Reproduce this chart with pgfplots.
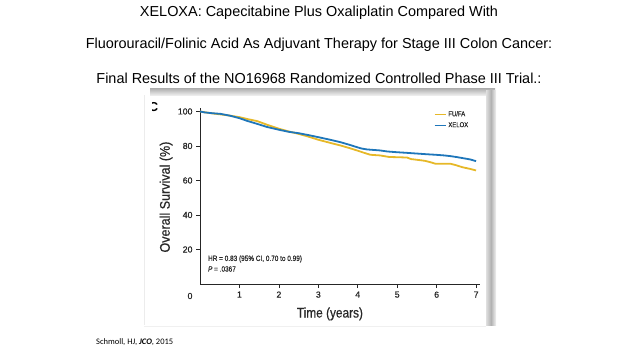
\documentclass[border=0pt]{standalone}
\usepackage{pgfplots}
\pgfplotsset{compat=1.18}
\usepackage{fontspec}
\setmainfont{Liberation Sans}
\newfontfamily\notefont{Carlito}
\newfontfamily\condfont[FakeStretch=0.85,FakeBold=0.6]{Liberation Sans}
\newfontfamily\condfontw[FakeStretch=0.9,FakeBold=0.6]{Liberation Sans}
\newfontfamily\tickfont[FakeBold=0.7]{Liberation Sans}
\definecolor{fufa}{RGB}{230,184,40}
\definecolor{xelox}{RGB}{30,118,186}
\definecolor{tickgray}{RGB}{40,40,40}
\begin{document}
\begin{tikzpicture}[x=1bp,y=1bp]
\path[use as bounding box] (0,0) rectangle (638,359);
% title
\node[font=\fontsize{14.5}{16}\selectfont] at (319,359-13) {XELOXA: Capecitabine Plus Oxaliplatin Compared With};
\node[font=\fontsize{14.5}{16}\selectfont] at (319,359-45) {Fluorouracil/Folinic Acid As Adjuvant Therapy for Stage III Colon Cancer:};
\node[font=\fontsize{14.5}{16}\selectfont] at (319,359-78) {Final Results of the NO16968 Randomized Controlled Phase III Trial.:};
% panel frame
\shade[top color=gray!65, bottom color=gray!15] (150,359-95) rectangle (495,359-88);
\shade[left color=gray!25, right color=gray!60] (486,359-325) rectangle (491,359-90);
\shade[left color=gray!60, right color=gray!10] (491,359-325) rectangle (496,359-90);
\draw[gray!15] (144,359-95) -- (144,359-325);
\draw[gray!12] (144,359-326) -- (486,359-326);
% partial panel letter
\begin{scope}
\clip (152,359-116) rectangle (165,359-98);
\node[font=\bfseries\fontsize{13}{13}\selectfont, anchor=east, inner sep=0pt] at (158.5,359-107) {C};
\end{scope}
\begin{axis}[
  at={(200bp,75bp)}, anchor=south west,
  scale only axis, width=280bp, height=176bp,
  xmin=0, xmax=7.1, ymin=0, ymax=102,
  axis x line=bottom, axis y line=left,
  axis line style={-, black!85, line width=0.7bp},
  xtick={1,2,3,4,5,6,7}, ytick={20,40,60,80,100},
  tick align=outside, major tick length=4bp,
  tick style={black!85, line width=0.7bp},
  ticklabel style={font=\tickfont\fontsize{8.8}{9}\selectfont, text=tickgray},
  /pgf/number format/assume math mode=true,
  xlabel={Time (years)}, ylabel={Overall Survival (\%)},
  xlabel style={font=\condfont\fontsize{14}{14}\selectfont, text=tickgray, at={(rel axis cs:0.464,-0.17)}, anchor=center},
  ylabel style={font=\condfontw\fontsize{14}{14}\selectfont, text=tickgray, at={(rel axis cs:-0.121,0.494)}, anchor=center},
  legend cell align=left,
  legend style={font=\condfont\fontsize{7}{8}\selectfont, text=tickgray, draw=none, fill=none, at={(rel axis cs:0.83,1.0)}, anchor=north west, row sep=0.5bp, inner sep=1pt},
  legend image code/.code={\draw[#1, line width=1.8bp] (0,0) -- (11bp,0);},
  clip=false,
]
\addplot[fufa, line width=1.8bp] coordinates {
(0,100) (0.1,99.6) (0.3,98.9) (0.52,98.3) (0.75,97.6) (1,96.7) (1.2,95.6) (1.45,94.4) (1.7,92.3) (2,90) (2.25,88.4) (2.5,87.0) (2.75,85.4) (3,83.6) (3.3,81.8) (3.56,80.3) (3.8,78.7) (3.98,77.4) (4.15,76.1) (4.32,74.9) (4.57,74.5) (4.8,73.6) (4.98,73.5) (5.25,73.3) (5.35,72.4) (5.5,72.0) (5.7,71.4) (5.84,70.6) (5.97,69.7) (6.35,69.7) (6.5,68.8) (6.65,67.7) (6.85,66.7) (7,65.8)};
\addlegendentry{FU/FA}
\addplot[xelox, line width=1.8bp] coordinates {
(0,100) (0.1,99.5) (0.3,99.0) (0.52,98.6) (0.75,97.6) (1,96.1) (1.2,94.5) (1.45,92.8) (1.7,91.0) (2,89.4) (2.25,88.2) (2.5,87.4) (2.75,86.3) (3,85.1) (3.3,83.6) (3.56,82.2) (3.8,80.6) (3.98,79.3) (4.1,78.5) (4.23,78.0) (4.57,77.4) (4.75,76.8) (4.98,76.4) (5.25,76.0) (5.5,75.6) (5.75,75.2) (5.97,74.9) (6.2,74.5) (6.35,74.1) (6.5,73.6) (6.65,73.0) (6.85,72.2) (7,71.2)};
\addlegendentry{XELOX}
\node[font=\tickfont\fontsize{8.8}{9}\selectfont, text=tickgray] at (axis cs:0,0) [xshift=-10bp, yshift=-12bp] {0};
\node[font=\condfont\fontsize{7.6}{8}\selectfont, text=tickgray, anchor=west, inner sep=0pt] at (axis cs:0.2,14.5) {HR = 0.83 (95\% CI, 0.70 to 0.99)};
\node[font=\condfont\fontsize{7.6}{8}\selectfont, text=tickgray, anchor=west, inner sep=0pt] at (axis cs:0.2,8.7) {\textit{P} = .0367};
\end{axis}
\node[font=\notefont\fontsize{8.5}{10}\selectfont, anchor=west, inner sep=0pt] at (96,359-342) {Schmoll, HJ, \textbf{\textit{JCO}}, 2015};
\end{tikzpicture}
\end{document}
